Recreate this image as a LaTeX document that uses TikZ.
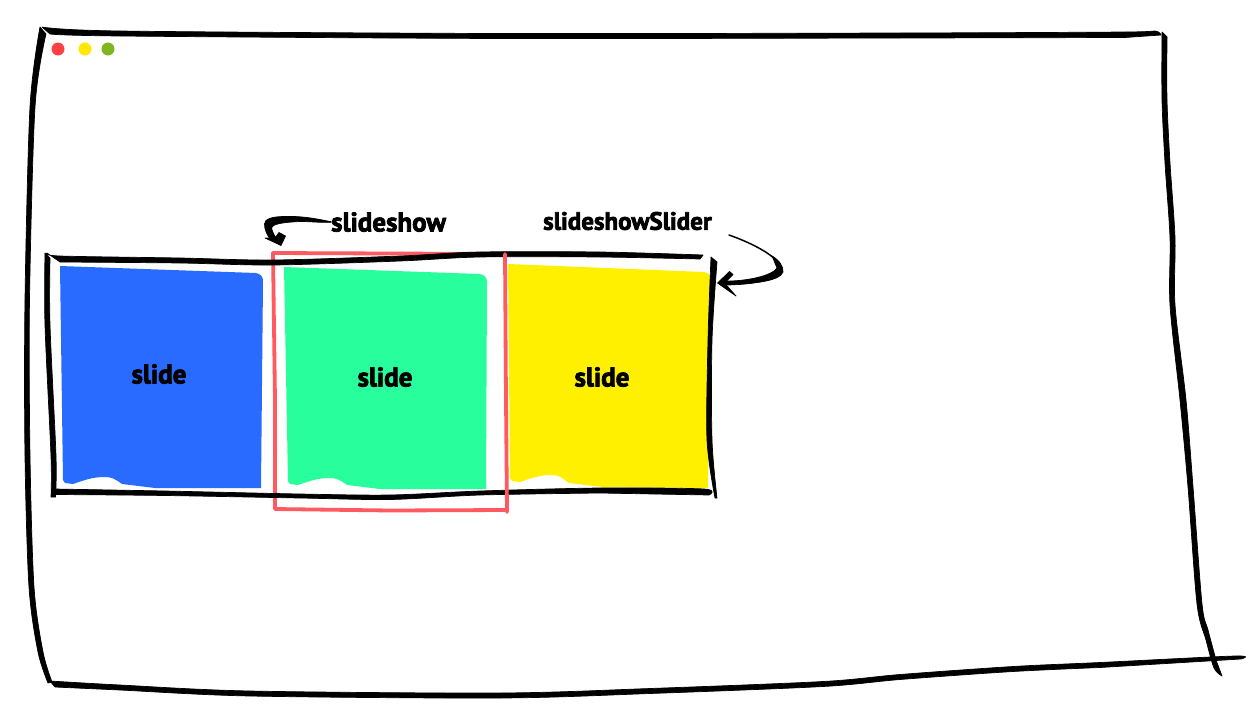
\documentclass[tikz,border=0pt]{standalone}
\usepackage{fontspec}
\setmainfont{PT Sans}
\newfontfamily\handfont[FakeBold=2.8]{PT Sans Bold}
\definecolor{ink}{HTML}{000000}
\definecolor{slideblue}{HTML}{2A6BFF}
\definecolor{slidegreen}{HTML}{28FF9C}
\definecolor{slideyellow}{HTML}{FFF000}
\definecolor{redline}{HTML}{FF5A5F}
\definecolor{dotred}{HTML}{FF4044}
\definecolor{dotyellow}{HTML}{FFE800}
\definecolor{dotgreen}{HTML}{7FB51F}
\tikzset{
  inkfill/.style={fill=ink,draw=ink,line width=.7pt,line join=round},
  redstroke/.style={draw=redline,line width=3.8pt,line cap=round,line join=round},
  label/.style={font=\handfont\fontsize{27}{27}\selectfont,inner sep=0pt,text=ink},
  connector/.style={draw=ink,line width=1.5pt,line cap=round},
  dot/.style={circle,minimum size=13pt,inner sep=0pt,draw=none}
}
\begin{document}
\begin{tikzpicture}[x=1pt,y=-1pt]
\useasboundingbox (0,0) rectangle (1250,723);
\fill[white] (0,0) rectangle (1250,723);
% window dots
\node[dot,fill=dotred] (d1) at (58,49) {};
\node[dot,fill=dotyellow] (d2) at (85,49) {};
\node[dot,fill=dotgreen] (d3) at (108,49) {};
% slides
\fill[slideblue] (60,266) -- (256,273) .. controls (261,274) and (263,277) .. (263,281) -- (261,488) -- (155,488) -- (122,484) .. controls (115,479) and (112,477) .. (105,477) .. controls (92,477) and (85,480) .. (73,484) -- (65,483) -- (63,480) -- cycle;
\fill[slidegreen] (284,267) -- (480,274) .. controls (485,275) and (487,278) .. (487,282) -- (486,489) -- (380,489) -- (347,485) .. controls (340,480) and (337,478) .. (330,478) .. controls (317,478) and (310,481) .. (298,485) -- (290,484) -- (288,481) -- cycle;
\fill[slideyellow] (508,264) -- (704,272) .. controls (709,273) and (711,276) .. (711,280) -- (708,488) -- (602,487) -- (569,483) .. controls (562,478) and (559,475) .. (552,475) .. controls (539,475) and (532,478) .. (520,482) -- (512,481) -- (510,478) -- cycle;
% red box, behind the black
\draw[redstroke] (505,254) -- (273,253) -- (275,400) -- (275,509) -- (390,510.5) -- (507,510);
% outer frame: top
\fill[inkfill] plot[smooth,tension=.5] coordinates {(42,27) (120,31) (500,33.5) (900,33) (1125,32) (1155,31) (1161,35)}
  -- plot[smooth,tension=.5] coordinates {(1125,37.5) (900,38) (500,38.5) (120,36) (50,34)} -- cycle;
% outer frame: left
\fill[inkfill] plot[smooth,tension=.5] coordinates {(40,27) (30,107) (25,300) (25,456) (29,587) (38,652) (48,683)}
  -- plot[smooth,tension=.5] coordinates {(52,682) (43,652) (34,587) (30,456) (29.5,300) (35,107) (46,34)} -- cycle;
% outer frame: right
\fill[inkfill] plot[smooth,tension=.5] coordinates {(1162,32) (1162,100) (1165,163) (1170,238) (1170,305) (1180,400) (1188,487) (1197,604) (1206,640) (1214,668) (1222,676)}
  -- plot[smooth,tension=.5] coordinates {(1216,660) (1208,630) (1202,604) (1193,487) (1186,400) (1175,305) (1175,238) (1170,163) (1167,100) (1167,37)} -- cycle;
% outer frame: bottom
\fill[inkfill] plot[smooth,tension=.5] coordinates {(50,681) (120,685) (250,691) (500,693) (650,688.5) (823,681.5) (900,674.5) (1013,666.5) (1100,662.5) (1235,656) (1241,659)}
  -- plot[smooth,tension=.5] coordinates {(1100,667.5) (1013,671.5) (900,679.5) (823,686.5) (650,693.5) (500,698) (250,696) (120,690) (55,687)} -- cycle;
% inner frame: top
\fill[inkfill] plot[smooth,tension=.5] coordinates {(47,253) (60,256) (180,258) (273,260) (400,256) (480,252) (600,252) (703,255)}
  -- plot[smooth,tension=.5] coordinates {(700,259) (600,257) (480,257) (400,261) (273,265) (180,263) (60,262)} -- cycle;
% inner frame: left
\fill[inkfill] plot[smooth,tension=.5] coordinates {(45,253) (45,325) (51,456) (51,497)}
  -- plot[smooth,tension=.5] coordinates {(55.5,497) (56,456) (50,325) (50,258)} -- cycle;
% inner frame: bottom
\fill[inkfill] plot[smooth,tension=.5] coordinates {(54,489) (165,491) (300,494) (390,495) (480,491) (600,488) (704,489) (709,495)}
  -- plot[smooth,tension=.5] coordinates {(600,493) (480,495) (390,499.5) (300,498) (165,495.5) (54,494.5)} -- cycle;
% inner frame: right
\fill[inkfill] plot[smooth,tension=.5] coordinates {(711,257) (708,340) (707,440) (715,498)}
  -- plot[smooth,tension=.5] coordinates {(717,498) (712,440) (712,340) (717,262)} -- cycle;
% red right side, over the black
\draw[redstroke] (505,254) -- (506,400) -- (507,512);
% labels
\node[label] (sld1) at (159,374) {slide};
\node[label] (sld2) at (385,377) {slide};
\node[label] (sld3) at (602,377) {slide};
\node[label,anchor=west] (show) at (331,222) {slideshow};
\node[label,anchor=west,font=\handfont\fontsize{25}{25}\selectfont] (slider) at (543,221) {slideshowSlider};
% connectors
\coordinate (tipA) at (276,238);
\coordinate (startB) at (729,235);
\coordinate (tipB) at (722,283);
\draw[connector] (show.west) .. controls (310,219) and (268,215) .. (267,226) .. controls (267,231) and (270,236) .. (tipA);
\fill[inkfill] (show.west) .. controls (315,218) and (300,216) .. (285,216.5) .. controls (272,216.5) and (264.5,219) .. (264.5,224) .. controls (264.5,230) and (267,235) .. (271,240) -- (276,238) .. controls (273,233) and (271,229) .. (272,227) .. controls (274,223) and (290,222) .. (300,221.5) .. controls (312,221.5) and (322,223) .. (show.west) -- cycle;
\fill[inkfill] (265,238) -- (281,245.5) -- (285.5,236) -- (279,232.5) -- (275,238) -- cycle;
\draw[connector] (startB) .. controls (760,246) and (782,260) .. (782,271) .. controls (782,282) and (745,284) .. (tipB);
\fill[inkfill] (772,256) .. controls (779,260) and (783.5,266) .. (783,272) .. controls (781,280) and (750,285) .. (725,285) -- (725,281) .. controls (745,281.5) and (772,276) .. (777,268) -- cycle;
\fill[inkfill] (717.5,283) -- (729.5,271.5) -- (733,274.5) -- (724.5,283) -- (736,296) -- cycle;
\end{tikzpicture}
\end{document}
